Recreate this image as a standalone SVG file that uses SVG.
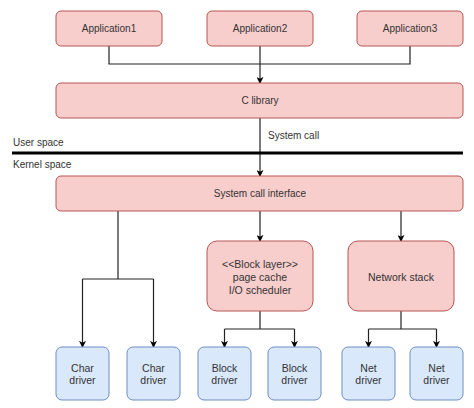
<svg xmlns="http://www.w3.org/2000/svg" width="474" height="408" viewBox="0 0 474 408">
<style>
.r{fill:#f8cecc;stroke:#b85450;stroke-width:1}
.b{fill:#dae8fc;stroke:#6c8ebf;stroke-width:1}
text{font-family:"Liberation Sans",Arial,sans-serif;font-size:10px;fill:#333;text-anchor:middle;dominant-baseline:central}
.l{text-anchor:start}
.m{font-size:10.5px}
.c{fill:none;stroke:#222;stroke-width:1.2}
</style>
<defs>
<marker id="a" viewBox="0 0 8 8" refX="7" refY="4" markerWidth="7" markerHeight="7" markerUnits="userSpaceOnUse" orient="auto">
<path d="M0,0 L8,4 L0,8 L2,4 Z" fill="#000"/>
</marker>
</defs>
<rect width="474" height="408" fill="#fff"/>
<g id="connectors">
<path class="c" d="M109,46 V64 H410 V46"/>
<path class="c" d="M260,46 V83" marker-end="url(#a)"/>
<path class="c" d="M260,118 V176" marker-end="url(#a)"/>
<path class="c" d="M118,211 V279"/>
<path class="c" d="M82.5,279 H153.5"/>
<path class="c" d="M82.5,279 V347" marker-end="url(#a)"/>
<path class="c" d="M153.5,279 V347" marker-end="url(#a)"/>
<path class="c" d="M260,211 V241" marker-end="url(#a)"/>
<path class="c" d="M401,211 V241" marker-end="url(#a)"/>
<path class="c" d="M260,311 V329"/>
<path class="c" d="M224.5,329 H294.5"/>
<path class="c" d="M224.5,329 V347" marker-end="url(#a)"/>
<path class="c" d="M294.5,329 V347" marker-end="url(#a)"/>
<path class="c" d="M401,311 V329"/>
<path class="c" d="M368.5,329 H436.5"/>
<path class="c" d="M368.5,329 V347" marker-end="url(#a)"/>
<path class="c" d="M436.5,329 V347" marker-end="url(#a)"/>
</g>
<g id="divider">
<line x1="12" y1="153" x2="463" y2="153" stroke="#000" stroke-width="3"/>
<text class="l" x="13" y="142">User space</text>
<text class="l" x="13" y="164">Kernel space</text>
<text class="l" x="268" y="135">System call</text>
</g>
<g id="app1"><rect class="r" x="56" y="11" width="106" height="35" rx="5"/><text x="109" y="28.5">Application1</text></g>
<g id="app2"><rect class="r" x="207" y="11" width="106" height="35" rx="5"/><text x="260" y="28.5">Application2</text></g>
<g id="app3"><rect class="r" x="357" y="11" width="106" height="35" rx="5"/><text x="410" y="28.5">Application3</text></g>
<g id="clib"><rect class="r" x="56" y="83" width="407" height="35" rx="5"/><text x="260" y="100.5">C library</text></g>
<g id="sci"><rect class="r" x="56" y="176" width="407" height="35" rx="5"/><text x="260" y="193.5">System call interface</text></g>
<g id="block"><rect class="r" x="207" y="241" width="106" height="70" rx="10"/><text class="m" x="260" y="264">&lt;&lt;Block layer&gt;&gt;</text><text class="m" x="260" y="277">page cache</text><text class="m" x="260" y="290">I/O scheduler</text></g>
<g id="net"><rect class="r" x="348" y="241" width="106" height="70" rx="10"/><text class="m" x="401" y="276.5">Network stack</text></g>
<g id="char1"><rect class="b" x="56" y="347" width="53" height="53" rx="6"/><text class="m" x="82.5" y="367.5">Char</text><text class="m" x="82.5" y="380">driver</text></g>
<g id="char2"><rect class="b" x="127" y="347" width="53" height="53" rx="6"/><text class="m" x="153.5" y="367.5">Char</text><text class="m" x="153.5" y="380">driver</text></g>
<g id="blk1"><rect class="b" x="198" y="347" width="53" height="53" rx="6"/><text class="m" x="224.5" y="367.5">Block</text><text class="m" x="224.5" y="380">driver</text></g>
<g id="blk2"><rect class="b" x="268" y="347" width="53" height="53" rx="6"/><text class="m" x="294.5" y="367.5">Block</text><text class="m" x="294.5" y="380">driver</text></g>
<g id="net1"><rect class="b" x="342" y="347" width="53" height="53" rx="6"/><text class="m" x="368.5" y="367.5">Net</text><text class="m" x="368.5" y="380">driver</text></g>
<g id="net2"><rect class="b" x="410" y="347" width="53" height="53" rx="6"/><text class="m" x="436.5" y="367.5">Net</text><text class="m" x="436.5" y="380">driver</text></g>
</svg>
